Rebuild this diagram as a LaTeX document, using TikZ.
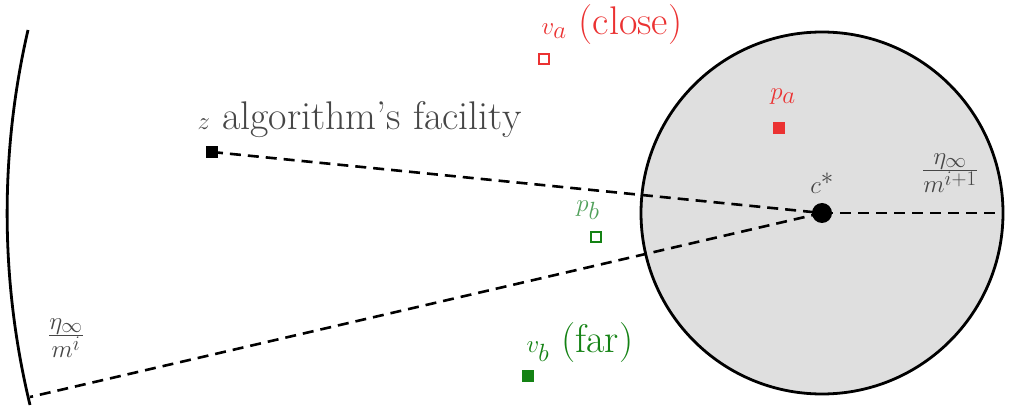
\documentclass[tikz,border=0pt]{standalone}
\usepackage{amsmath}
\begin{document}
\begin{tikzpicture}[x=1pt,y=-1pt,
  dl/.style={line width=2.6pt,dash pattern=on 11pt off 7pt},
  lab/.style={font=\fontsize{40}{46}\selectfont},
  sq/.style={draw,minimum size=10pt,inner sep=0pt,line width=1.6pt}]
\useasboundingbox (0,0) rectangle (1016,419);
\definecolor{myred}{RGB}{235,50,50}
\definecolor{mygreen}{RGB}{20,130,20}
\definecolor{lgreen}{RGB}{80,160,90}
\definecolor{mygray}{RGB}{70,70,70}
\coordinate (c) at (822,213);
\fill[gray!25] (c) circle (181);
\draw[line width=2.8pt] (c) circle (181);
\draw[line width=2.8pt] (28,30) arc[start angle=193, end angle=166.4, radius=815];
\coordinate (e) at (30,397);
\coordinate (r) at (1002,213);
\node[sq,fill=black,minimum size=11pt] (z) at (212,152) {};
\draw[dl] (z.center) -- (c);
\draw[dl] (c) -- (e);
\draw[dl] (c) -- (r);
\fill (c) circle (10);
\node[sq,draw=myred,fill=white] (va) at (544,59) {};
\node[sq,draw=myred,fill=myred,minimum size=11pt] (pa) at (779,128) {};
\node[sq,draw=mygreen,fill=white] (pb) at (596,237) {};
\node[sq,draw=mygreen,fill=mygreen,minimum size=11pt] (vb) at (528,376) {};
\node[lab,text=mygray,anchor=west] (zl) at (194,120) {$z$ algorithm's facility};
\node[lab,text=myred] (val) at (612,25) {$v_a$ (close)};
\node[lab,text=myred] (pal) at (783,97) {$p_a$};
\node[lab,text=lgreen] (pbl) at (588,210) {$p_b$};
\node[lab,text=mygreen] (vbl) at (580,343) {$v_b$ (far)};
\node[lab,text=mygray] (cl) at (822,183) {$c^*$};
\node[lab,text=mygray] (f1) at (950,173) {$\frac{\eta_\infty}{m^{i+1}}$};
\node[lab,text=mygray] (f2) at (66,338) {$\frac{\eta_\infty}{m^{i}}$};
\end{tikzpicture}
\end{document}
